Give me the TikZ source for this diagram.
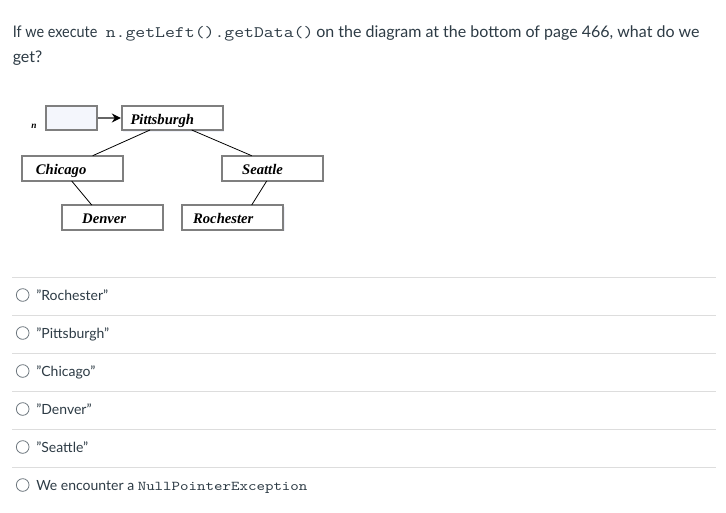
\documentclass[tikz,border=0pt]{standalone}
\usepackage{fontspec}
\setmainfont{Lato}
\newfontfamily\codefont{Latin Modern Mono}[FakeStretch=1.2]
\newfontfamily\diagfont{Liberation Serif}
\usetikzlibrary{arrows.meta,shadows}
\definecolor{txt}{HTML}{2D3B45}
\definecolor{sep}{HTML}{DDDDDD}
\definecolor{boxline}{HTML}{7F7F7F}
\definecolor{nfill}{HTML}{F4F6FC}
\definecolor{shade}{HTML}{EEF0F8}
\tikzset{
  treebox/.style={draw=boxline, fill=white, line width=1.5pt, drop shadow={shadow xshift=1.2pt, shadow yshift=-1.2pt, fill=shade, opacity=1}, minimum width=75.5pt, text width=75.5pt, align=left, minimum height=18.5pt, text height=11pt, text depth=2pt, inner sep=0pt, font=\diagfont\bfseries\itshape\fontsize{11}{13}\selectfont, text=black},
  link/.style={draw=black, line width=0.6pt},
  sepline/.style={draw=sep, line width=0.8pt},
  opt/.style={anchor=base west, inner sep=0pt, text=txt, font=\fontsize{10.5}{12}\selectfont},
  radio/.style={draw=txt!70, line width=0.6pt, circle, minimum size=9.5pt, inner sep=0pt},
  qtext/.style={anchor=base west, inner sep=0pt, text=txt, font=\fontsize{12}{14}\selectfont}
}
\begin{document}
\begin{tikzpicture}[x=0.75pt, y=-0.75pt]
\useasboundingbox[fill=white] (0,0) rectangle (726,512);
% question
\node[qtext] (q1a) at (12.5,37) {\scalebox{0.9}[1]{If we execute}};
\node[qtext, font=\codefont\fontsize{12}{14}\selectfont] (q1b) at (105.5,37) {n.getLeft().getData()};
\node[qtext] (q1c) at (316,37) {on the diagram at the bottom of page 466, what do we};
\node[qtext] (q2) at (12.5,62) {get?};
% diagram
\node[draw=boxline, line width=1.5pt, fill=nfill, minimum width=38pt, minimum height=18pt, inner sep=0pt] (nbox) at (71.5,118) {};
\node[font=\diagfont\bfseries\itshape\fontsize{7}{8}\selectfont, inner sep=0pt] (nlab) at (34,126) {n};
\node[treebox] (pit) at (172.2,118) {\hspace*{6.5pt}Pittsburgh};
\node[treebox] (chi) at (72.2,168.5) {\hspace*{10.5pt}Chicago};
\node[treebox] (sea) at (272.5,168.5) {\hspace*{15pt}Seattle};
\node[treebox] (den) at (112.5,217.5) {\hspace*{15pt}Denver};
\node[treebox] (roc) at (232.8,217.5) {\hspace*{8pt}Rochester};
\draw[draw=boxline!80!black, line width=0.8pt, -{Stealth[length=6.8pt,width=6.8pt,color=black]}] (nbox.east) -- (pit.west);
\draw[link] (150,130) -- (92.7,155.7);
\draw[link] (191.7,130) -- (251.7,155.7);
\draw[link] (71.7,181) -- (91.7,205);
\draw[link] (266.7,181) -- (251.7,205);
% options
\foreach \y in {277.3,315.3,353.3,391.3,429.3,467.3} {\draw[sepline] (12,\y) -- (716,\y);}
\node[radio] (r1) at (22.7,295) {};
\node[opt] (o1) at (36,300.5) {"Rochester"};
\node[radio] (r2) at (22.7,333) {};
\node[opt] (o2) at (36,338.5) {"Pittsburgh"};
\node[radio] (r3) at (22.7,371) {};
\node[opt] (o3) at (36,376.5) {"Chicago"};
\node[radio] (r4) at (22.7,409) {};
\node[opt] (o4) at (36,414.5) {"Denver"};
\node[radio] (r5) at (22.7,447) {};
\node[opt] (o5) at (36,452.5) {"Seattle"};
\node[radio] (r6) at (22.7,485) {};
\node[opt] (o6) at (36,490.5) {We encounter a {\codefont\fontsize{10.1}{12}\selectfont NullPointerException}};
\end{tikzpicture}
\end{document}
